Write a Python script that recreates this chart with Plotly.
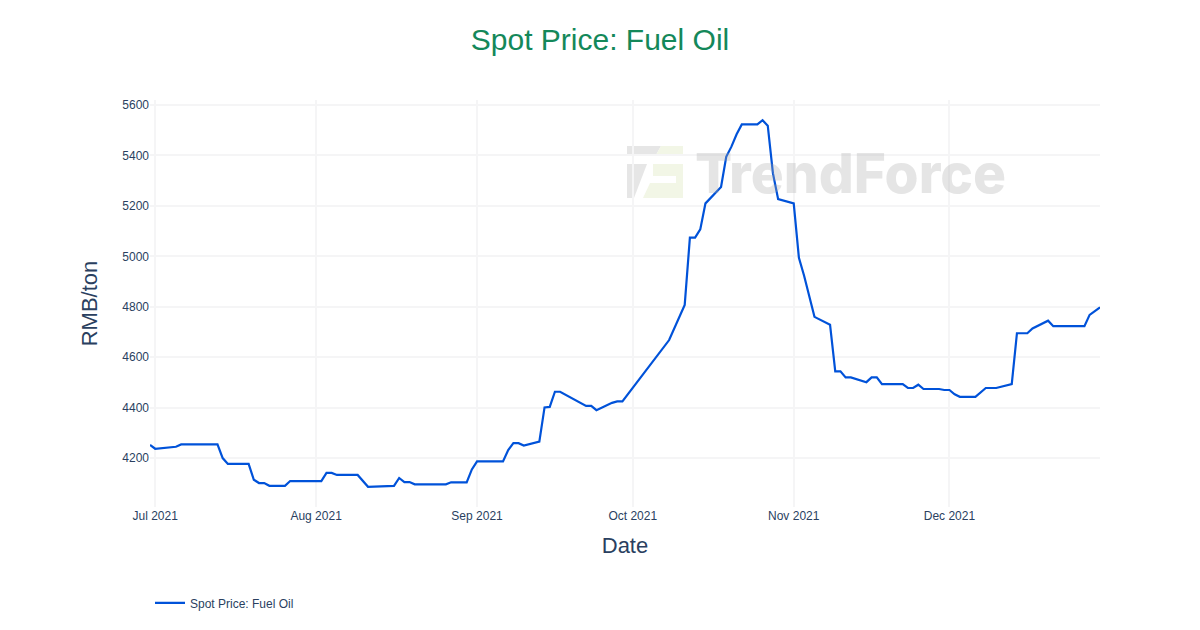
import plotly.graph_objects as go

# Daily fuel oil spot price, RMB per ton (turning points of the series)
dates = [
    "2021-06-30", "2021-07-01", "2021-07-05", "2021-07-06", "2021-07-13", "2021-07-14",
    "2021-07-15", "2021-07-19", "2021-07-20", "2021-07-21", "2021-07-22", "2021-07-23",
    "2021-07-26", "2021-07-27", "2021-08-02", "2021-08-03", "2021-08-04", "2021-08-05",
    "2021-08-09", "2021-08-11", "2021-08-16", "2021-08-17", "2021-08-18", "2021-08-19",
    "2021-08-20", "2021-08-26", "2021-08-27", "2021-08-30", "2021-08-31", "2021-09-01",
    "2021-09-06", "2021-09-07", "2021-09-08", "2021-09-09", "2021-09-10", "2021-09-13",
    "2021-09-14", "2021-09-15", "2021-09-16", "2021-09-17", "2021-09-22", "2021-09-23",
    "2021-09-24", "2021-09-27", "2021-09-28", "2021-09-29", "2021-10-08", "2021-10-11",
    "2021-10-12", "2021-10-13", "2021-10-14", "2021-10-15", "2021-10-18", "2021-10-19",
    "2021-10-20", "2021-10-21", "2021-10-22", "2021-10-25", "2021-10-26", "2021-10-27",
    "2021-10-28", "2021-10-29", "2021-11-01", "2021-11-02", "2021-11-03", "2021-11-05",
    "2021-11-08", "2021-11-09", "2021-11-10", "2021-11-11", "2021-11-12", "2021-11-15",
    "2021-11-16", "2021-11-17", "2021-11-18", "2021-11-22", "2021-11-23", "2021-11-24",
    "2021-11-25", "2021-11-26", "2021-11-29", "2021-11-30", "2021-12-01", "2021-12-02",
    "2021-12-03", "2021-12-06", "2021-12-08", "2021-12-10", "2021-12-13", "2021-12-14",
    "2021-12-16", "2021-12-17", "2021-12-20", "2021-12-21", "2021-12-27", "2021-12-28",
    "2021-12-30",
]
prices = [
    4252, 4237, 4245, 4254, 4254, 4200,
    4177, 4177, 4114, 4101, 4101, 4090,
    4090, 4109, 4109, 4141, 4141, 4133,
    4133, 4086, 4090, 4121, 4105, 4105,
    4096, 4096, 4104, 4104, 4155, 4187,
    4187, 4232, 4259, 4259, 4250, 4265,
    4401, 4403, 4463, 4463, 4407, 4407,
    4390, 4419, 4425, 4425, 4668, 4807,
    5074, 5074, 5107, 5210, 5275, 5395,
    5435, 5484, 5523, 5523, 5540, 5518,
    5329, 5227, 5210, 4994, 4923, 4760,
    4729, 4544, 4544, 4520, 4520, 4501,
    4520, 4520, 4493, 4493, 4478, 4478,
    4491, 4474, 4474, 4470, 4470, 4453,
    4443, 4443, 4478, 4478, 4493, 4695,
    4695, 4714, 4745, 4723, 4723, 4768,
    4798,
]
month_ticks = ["2021-07-01", "2021-08-01", "2021-09-01", "2021-10-01", "2021-11-01", "2021-12-01"]
month_labels = ["Jul 2021", "Aug 2021", "Sep 2021", "Oct 2021", "Nov 2021", "Dec 2021"]
price_ticks = [4200, 4400, 4600, 4800, 5000, 5200, 5400, 5600]

FONT = "Arial, Liberation Sans, sans-serif"
INK = "#2a3f5f"
GRID = "#f5f5f6"

# Plot area in pixels, used to place the logo
LEFT, RIGHT, TOP, BOTTOM = 150, 1100, 100, 507


def logo_path(points):
    """Closed SVG path in paper coordinates from pixel positions."""
    coords = [
        f"{(x - LEFT) / (RIGHT - LEFT):.5f},{(BOTTOM - y) / (BOTTOM - TOP):.5f}"
        for x, y in points
    ]
    return "M" + " L".join(coords) + " Z"


def logo_shape(points, color):
    return dict(type="path", xref="paper", yref="paper", layer="below",
                path=logo_path(points), fillcolor=color, line=dict(width=0))


LOGO_GRAY = "#e6e6e6"
LOGO_GREEN = "#f2f6e6"
logo = [
    logo_shape([(627, 146), (661, 146), (656, 155), (627, 155)], LOGO_GRAY),
    logo_shape([(627, 164), (647, 164), (634, 198), (627, 198)], LOGO_GRAY),
    logo_shape([(661, 146), (683, 146), (683, 155), (656, 155)], LOGO_GREEN),
    logo_shape([(653, 164), (683, 164), (683, 176), (653, 176)], LOGO_GREEN),
    logo_shape([(650, 183), (683, 183), (683, 198), (643, 198)], LOGO_GREEN),
    logo_shape([(676, 176), (683, 176), (683, 183), (676, 183)], LOGO_GREEN),
]

fig = go.Figure(
    go.Scatter(
        x=dates,
        y=prices,
        mode="lines",
        name="Spot Price: Fuel Oil",
        line=dict(color="#0052d9", width=2.2),
    )
)

fig.update_layout(
    width=1200,
    height=630,
    template="plotly_white",
    font=dict(family=FONT, size=12, color=INK),
    paper_bgcolor="white",
    plot_bgcolor="white",
    margin=dict(l=LEFT, r=1200 - RIGHT, t=TOP, b=630 - BOTTOM, autoexpand=False),
    title=dict(
        text="Spot Price: Fuel Oil",
        x=0.5,
        xanchor="center",
        y=0.937,
        yanchor="middle",
        font=dict(family=FONT, size=30, color="#14885a"),
    ),
    xaxis=dict(
        range=["2021-06-30", "2021-12-30"],
        tickmode="array",
        tickvals=month_ticks,
        ticktext=month_labels,
        title=dict(text="Date", font=dict(size=22), standoff=15),
        gridcolor=GRID,
        gridwidth=2,
        showline=False,
        zeroline=False,
    ),
    yaxis=dict(
        range=[4006, 5620],
        tickmode="array",
        tickvals=price_ticks,
        title=dict(text="RMB/ton", font=dict(size=22), standoff=18),
        gridcolor=GRID,
        gridwidth=1.5,
        showline=False,
        zeroline=False,
    ),
    showlegend=True,
    legend=dict(
        orientation="h",
        x=0,
        xanchor="left",
        y=-0.2,
        yanchor="top",
        font=dict(size=12),
    ),
    shapes=logo,
    annotations=[
        dict(
            text="TrendForce",
            xref="paper",
            yref="paper",
            x=(850 - LEFT) / (RIGHT - LEFT),
            y=(BOTTOM - 173) / (BOTTOM - TOP),
            xanchor="center",
            yanchor="middle",
            showarrow=False,
            font=dict(family="Inter, sans-serif", size=55, weight=800, color="rgba(170,170,170,0.3)"),
        )
    ],
)

fig.write_html("out.html")
